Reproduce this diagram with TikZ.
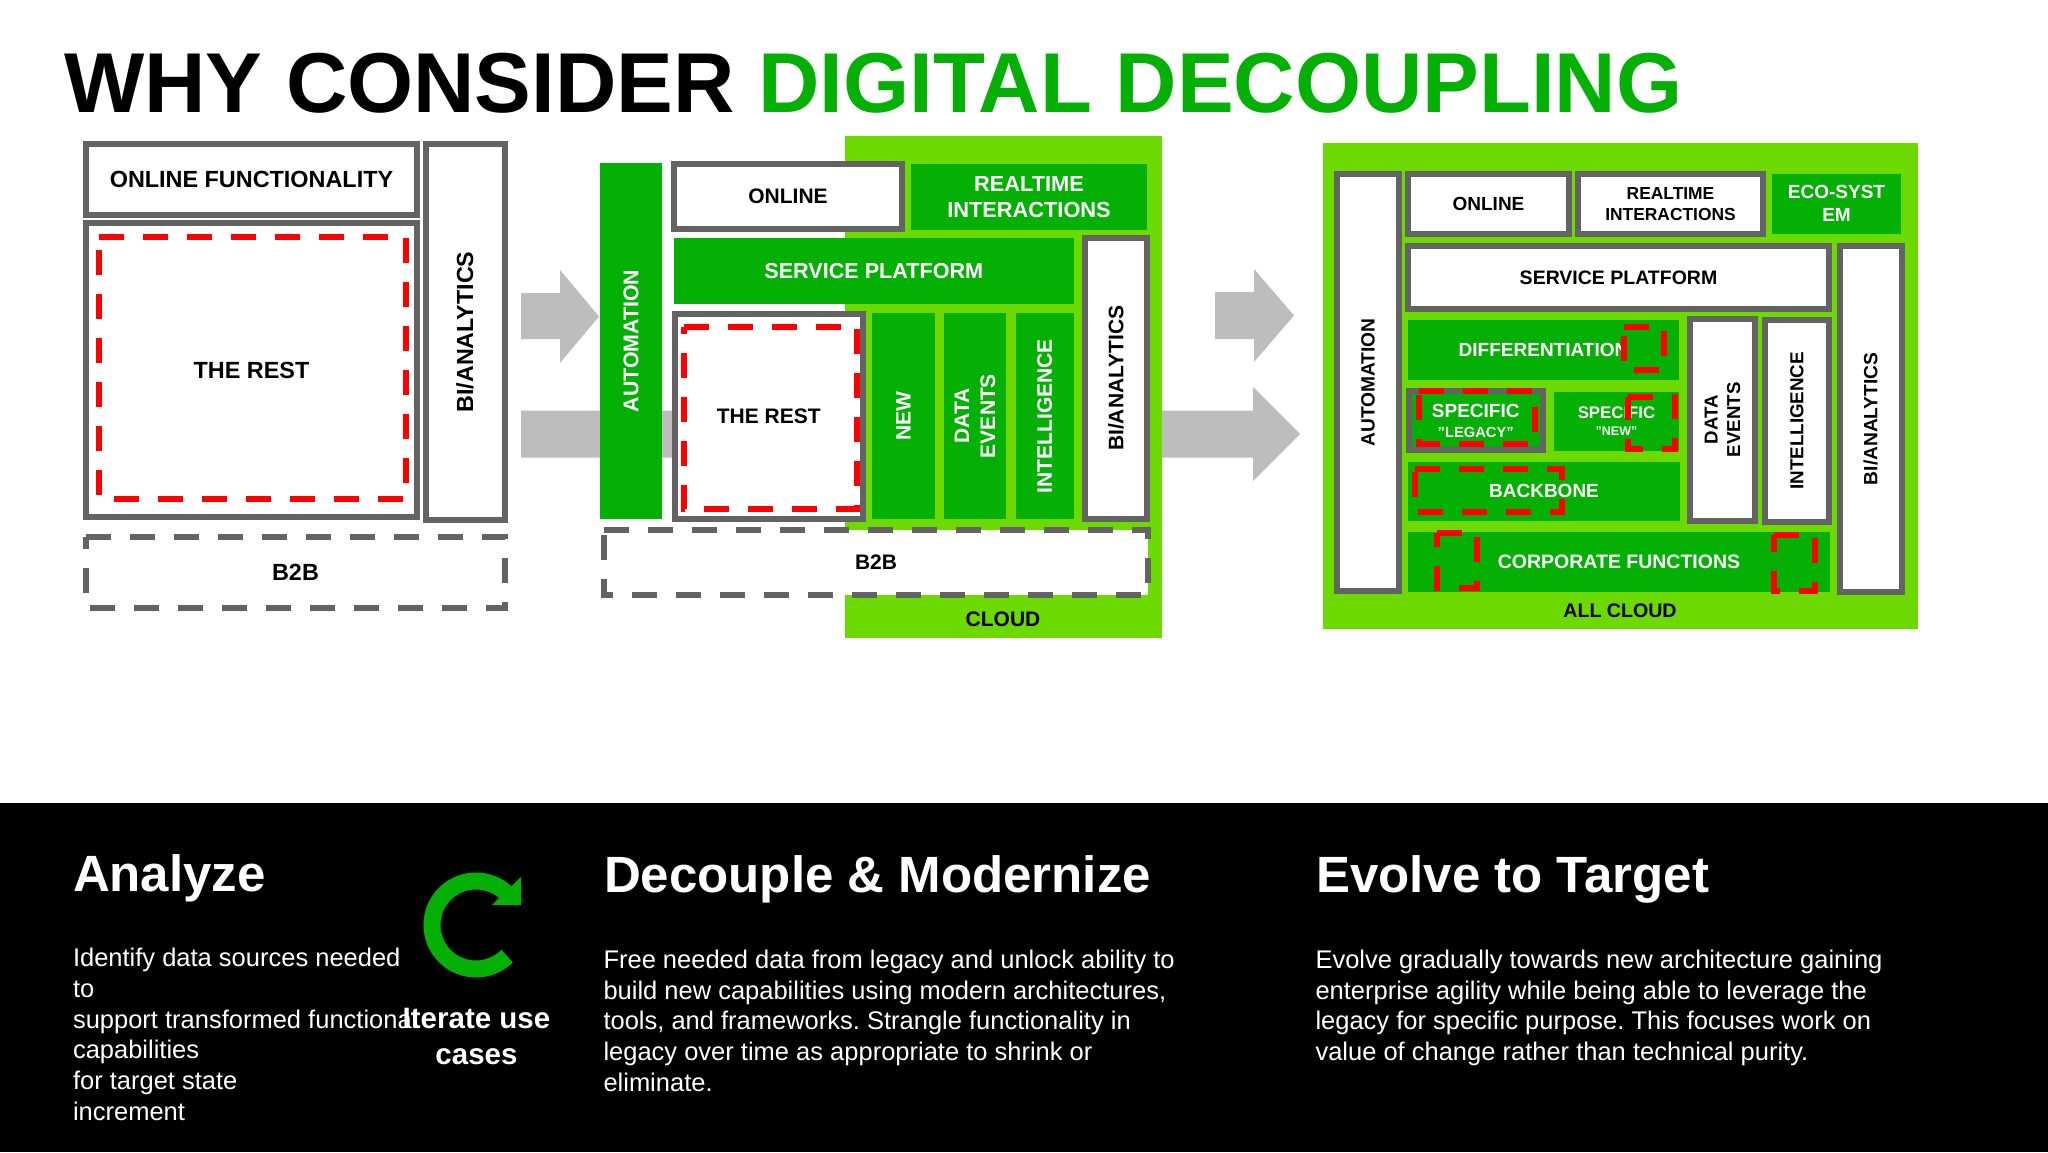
\documentclass[tikz,border=0pt]{standalone}
\usepackage{fontspec}
\setmainfont{Liberation Sans}
\frenchspacing
\definecolor{cloudgreen}{HTML}{6CD900}
\definecolor{darkgreen}{HTML}{04B004}
\definecolor{framegray}{HTML}{636363}
\definecolor{arrowgray}{HTML}{BDBDBD}
\definecolor{dashred}{HTML}{FF0000}
\newcommand{\fsz}[2]{\fontsize{#1}{#2}\selectfont\bfseries}
\newcommand{\bx}[7]{%
  \pgfmathsetmacro\bxw{#5-(#3)}\pgfmathsetmacro\bxh{#6-(#4)}%
  \pgfmathsetmacro\bxx{(#3+#5)/2}\pgfmathsetmacro\bxy{(#4+#6)/2}%
  \node[#2,minimum width=\bxw pt,minimum height=\bxh pt] (#1) at (\bxx,\bxy) {#7};}
\newcommand{\dashrect}[5]{\draw[#1] (#2,#3) -- (#4,#3) -- (#4,#5) -- (#2,#5) -- cycle;}
\newcommand{\blockarrow}[7]{\fill[blockarrowfill] (#1,#2) -- (#4,#2) -- (#4,#5) -- (#7,{(#5+#6)/2}) -- (#4,#6) -- (#4,#3) -- (#1,#3) -- cycle;}
\begin{document}
\begin{tikzpicture}[x=1pt,y=-1pt,
  base/.style={inner sep=0pt,outer sep=0pt,align=center},
  frame/.style={base,draw=framegray,line width=6pt,fill=white,text=black},
  solid green/.style={base,fill=darkgreen,text=white},
  plain/.style={base,fill=white,text=black},
  lbl/.style={base},
  redbox/.style={draw=dashred,line width=6pt,dash pattern=on 25pt off 19pt},
  graybox/.style={draw=framegray,line width=6pt,dash pattern=on 25pt off 19pt},
  blockarrowfill/.style={fill=arrowgray},
  bodytext/.style={inner sep=0pt,outer sep=0pt,anchor=base west,text=white},
  headtext/.style={inner sep=0pt,outer sep=0pt,anchor=base west,text=white,font=\bfseries},
]
\useasboundingbox (0,0) rectangle (2048,1152);
\fill[white] (0,0) rectangle (2048,1152);
\fill[black] (0,803) rectangle (2048,1152);

% title
\node[inner sep=0pt,anchor=base west] (title) at (64,112) {\fontsize{85}{90}\selectfont\bfseries WHY CONSIDER \textcolor{darkgreen}{DIGITAL DECOUPLING}};

% arrows (behind everything)
\blockarrow{521}{293}{339}{560}{270}{363}{599}
\blockarrow{1215}{292}{339}{1254}{269}{362}{1294}
\blockarrow{521}{410.5}{457.5}{1253}{387}{481}{1300}

% ---------- panel 1
\bx{pOneOnline}{frame}{86}{144}{417}{215}{\fsz{23.4}{28}ONLINE FUNCTIONALITY}
\bx{pOneRest}{frame}{86}{223}{417}{517}{\fsz{23.4}{28}THE REST}
\bx{pOneBI}{frame}{425.5}{144}{504.5}{520}{}
\node[lbl,rotate=90] (pOneBIt) at (pOneBI.center) {\fsz{23.3}{28}BI/ANALYTICS};
\dashrect{redbox}{99}{237}{406}{499}
\dashrect{graybox}{86}{537}{505}{608}
\node[lbl] (pOneBtwoB) at (295.5,572.5) {\fsz{23.4}{28}B2B};

% ---------- panel 2
\fill[cloudgreen] (845,136) rectangle (1162,638);
\bx{pTwoAuto}{solid green}{600}{163}{662}{519}{}
\node[lbl,rotate=90,text=white] (pTwoAutot) at (pTwoAuto.center) {\fsz{21.3}{26}AUTOMATION};
\bx{pTwoOnline}{frame}{674}{164}{902}{229}{\fsz{21}{26}ONLINE}
\bx{pTwoReal}{solid green,font=\fsz{21.8}{25.6}}{911}{164}{1147}{230}{REALTIME\\INTERACTIONS}
\bx{pTwoSvc}{solid green}{674}{238}{1073.5}{303.6}{\fsz{21.6}{26}SERVICE PLATFORM}
\bx{pTwoRest}{frame}{675}{313.7}{862.5}{518.6}{\fsz{21}{26}THE REST}
\bx{pTwoNew}{solid green}{872}{313}{935}{519}{}
\node[lbl,rotate=90,text=white] (pTwoNewt) at (pTwoNew.center) {\fsz{21}{26}NEW};
\bx{pTwoData}{solid green}{944}{313}{1006}{519}{}
\node[lbl,rotate=90,text=white,font=\fsz{21}{26}] (pTwoDatat) at (pTwoData.center) {DATA\\EVENTS};
\bx{pTwoIntel}{solid green}{1016}{313}{1073.5}{519}{}
\node[lbl,rotate=90,text=white] (pTwoIntelt) at (pTwoIntel.center) {\fsz{21}{26}INTELLIGENCE};
\bx{pTwoBI}{frame}{1085}{238}{1147}{518.6}{}
\node[lbl,rotate=90] (pTwoBIt) at (pTwoBI.center) {\fsz{21}{26}BI/ANALYTICS};
\dashrect{redbox}{683.6}{326.6}{857}{508.8}
\bx{pTwoBtwoB}{plain}{604}{530}{1148}{595}{\fsz{21}{26}B2B}
\dashrect{graybox}{604}{530}{1148}{595}
\node[lbl] (pTwoCloud) at (1003,619) {\fsz{21}{26}CLOUD};

% ---------- panel 3
\fill[cloudgreen] (1323,143) rectangle (1918,629);
\bx{pThrAuto}{frame}{1337}{174}{1399}{591}{}
\node[lbl,rotate=90] (pThrAutot) at (pThrAuto.center) {\fsz{19.2}{24}AUTOMATION};
\bx{pThrOnline}{frame}{1408}{174}{1569}{233.7}{\fsz{19}{24}ONLINE}
\bx{pThrReal}{frame,font=\fsz{17.4}{21}}{1578}{174}{1763}{233.7}{REALTIME\\INTERACTIONS}
\bx{pThrEco}{solid green,font=\fsz{19}{23}}{1772}{174}{1901}{233.7}{ECO-SYST\\EM}
\bx{pThrSvc}{frame}{1408}{245.7}{1829}{309}{\fsz{19.5}{24}SERVICE PLATFORM}
\bx{pThrBI}{frame}{1839.6}{245.7}{1901.6}{592}{}
\node[lbl,rotate=90] (pThrBIt) at (pThrBI.center) {\fsz{19.2}{24}BI/ANALYTICS};
\bx{pThrDiff}{solid green}{1408}{320}{1679}{380}{\fsz{19}{24}DIFFERENTIATION}
\bx{pThrData}{frame}{1690}{319}{1755}{520.7}{}
\node[lbl,rotate=90,font=\fsz{18.7}{22.5}] (pThrDatat) at (pThrData.center) {DATA\\EVENTS};
\bx{pThrIntel}{frame}{1764.6}{320}{1829}{521.7}{}
\node[lbl,rotate=90] (pThrIntelt) at (pThrIntel.center) {\fsz{18.8}{24}INTELLIGENCE};
\bx{pThrLegacy}{frame,fill=darkgreen,text=white,font=\fsz{19}{20}}{1408.7}{391}{1542.7}{450}{SPECIFIC\\\fsz{14.7}{20}”LEGACY”}
\bx{pThrNew}{solid green,font=\fsz{16.8}{17}}{1554}{391.7}{1679}{450.7}{SPECIFIC\\\fsz{12.5}{17}”NEW”}
\bx{pThrBack}{solid green}{1408}{461.7}{1680}{520.7}{\fsz{19}{24}BACKBONE}
\bx{pThrCorp}{solid green}{1408}{532}{1830}{591.7}{\fsz{19.5}{24}CORPORATE FUNCTIONS}
\node[lbl] (pThrCloud) at (1620,611) {\fsz{19.6}{24}ALL CLOUD};
% red dashed overlays
\fill[darkgreen] (1624,327) rectangle (1664,370);
\dashrect{redbox}{1624}{326.7}{1664}{370}
\dashrect{redbox}{1419.3}{391}{1535}{444}
\dashrect{redbox}{1627.7}{397}{1675}{449.3}
\dashrect{redbox}{1415}{469.3}{1561.7}{512.3}
\dashrect{redbox}{1436.7}{533.3}{1477}{588}
\dashrect{redbox}{1774}{535}{1815}{590.7}

% ---------- bottom band
\node[headtext] (hAnalyze) at (73,891) {\fontsize{51}{56}\selectfont Analyze};
\node[bodytext] (bAnalyze) at (73,966.7) {\parbox[t]{420pt}{\fontsize{25.5}{30.7}\selectfont\raggedright Identify data sources needed\\to\\support transformed functional\\capabilities\\for target state\\increment}};
\draw[darkgreen,line width=17pt] (507.1,956.1) arc[start angle=-45,end angle=-315,radius=44pt];
\fill[darkgreen] (521,877) -- (521,905) -- (492,905) -- cycle;
\node[base,text=white,font=\fsz{29.5}{36}] (iterate) at (476.5,1036) {Iterate use\\cases};

\node[headtext] (hDecouple) at (604,892.7) {\fontsize{51}{56}\selectfont Decouple \& Modernize};
\node[bodytext] (bDecouple) at (603.5,968.3) {\parbox[t]{640pt}{\fontsize{25.5}{30.7}\selectfont\raggedright Free needed data from legacy and unlock ability to\\build new capabilities using modern architectures,\\tools, and frameworks. Strangle functionality in\\legacy over time as appropriate to shrink or\\eliminate.}};

\node[headtext] (hEvolve) at (1316,892.7) {\fontsize{51}{56}\selectfont Evolve to Target};
\node[bodytext] (bEvolve) at (1315.5,968.3) {\parbox[t]{640pt}{\fontsize{25.5}{30.7}\selectfont\raggedright Evolve gradually towards new architecture gaining\\enterprise agility while being able to leverage the\\legacy for specific purpose. This focuses work on\\value of change rather than technical purity.}};
\end{tikzpicture}
\end{document}
